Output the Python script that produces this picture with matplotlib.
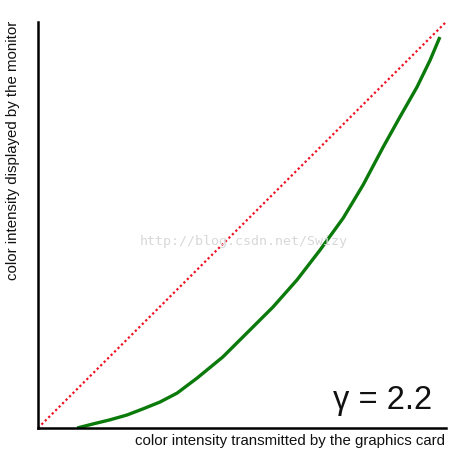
import matplotlib
matplotlib.use("Agg")
import matplotlib.pyplot as plt

# green curve (fraction of axis)
x_sent = [0.096, 0.135, 0.176, 0.218, 0.257, 0.299, 0.341, 0.390, 0.453, 0.512,
          0.576, 0.635, 0.691, 0.748, 0.797, 0.846, 0.887, 0.929, 0.961, 0.985]
y_shown = [0.0, 0.010, 0.020, 0.032, 0.047, 0.064, 0.086, 0.123, 0.175, 0.234,
           0.298, 0.365, 0.438, 0.517, 0.599, 0.692, 0.766, 0.840, 0.906, 0.963]
# diagonal reference
x_lin = [0.0, 1.0]
y_lin = [0.0, 1.0]

fig = plt.figure(figsize=(4.74, 4.66), dpi=100)
ax = fig.add_axes([38/474, 38/466, 408/474, 406/466])

ax.plot(x_lin, y_lin, color="#ee1122", linestyle=(0, (1, 1.2)), linewidth=1.6)
ax.plot(x_sent, y_shown, color="#0a7a0a", linewidth=2.4, solid_capstyle="butt",
        solid_joinstyle="round")

ax.set_xlim(0, 1)
ax.set_ylim(0, 1)
ax.set_xticks([])
ax.set_yticks([])
for s in ["top", "right"]:
    ax.spines[s].set_visible(False)
for s in ["left", "bottom"]:
    ax.spines[s].set_linewidth(1.8)
    ax.spines[s].set_color("black")

fnt = ["Liberation Sans", "DejaVu Sans"]
fig.text(445/474, 1 - 441/466, "color intensity transmitted by the graphics card",
         ha="right", va="center", fontsize=10.8, family=fnt, color="#111111")
fig.text(13/474, 1 - 21/466, "color intensity displayed by the monitor",
         ha="center", va="top", rotation=90, fontsize=10.8, family=fnt, color="#111111")
fig.text(432/474, 1 - 401/466, "γ = 2.2", ha="right", va="center",
         fontsize=23.5, family=fnt, color="#111111")
fig.text(140/474, 1 - 242/466, "http://blog.csdn.net/Swizy", ha="left", va="center",
         fontsize=9.6, family="DejaVu Sans Mono", color="#d8d8d8")

fig.savefig("out.png", dpi=100)
